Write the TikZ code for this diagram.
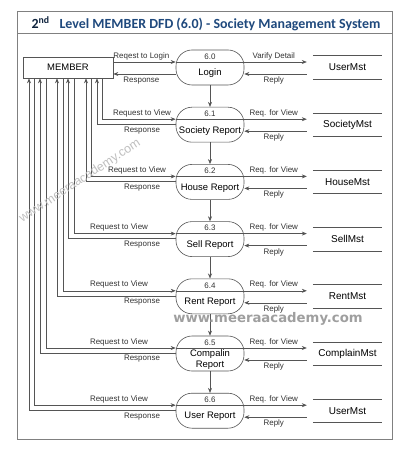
\documentclass[tikz,border=0pt]{standalone}
\usepackage{fontspec}
\setmainfont{Liberation Sans}
\newfontfamily\titlefont{Carlito}
\newfontfamily\markfont{DejaVu Sans}
\usetikzlibrary{arrows.meta,calc}
\definecolor{titleblue}{RGB}{31,73,125}
\definecolor{linegray}{RGB}{85,85,85}

\begin{document}
\begin{tikzpicture}[x=1bp,y=-1bp,
            >={Stealth[length=5bp,width=4bp]},
            dfdline/.style={draw=linegray,line width=0.6bp},
            flow/.style={dfdline,->},
            proc/.style={dfdline,rounded corners=16bp,minimum width=68bp,minimum height=35bp,inner sep=0pt},
            entity/.style={dfdline,minimum width=90bp,minimum height=21bp,font=\fontsize{9.5}{11}\selectfont},
            datastore/.style={minimum width=69bp,minimum height=23bp,inner sep=0pt,font=\fontsize{10}{12}\selectfont},
            lbl/.style={font=\fontsize{8}{9}\selectfont,text=black!80,inner sep=0pt},
            pname/.style={font=\fontsize{9.5}{11.5}\selectfont,align=center,inner sep=0pt},
        ]
        \useasboundingbox (0,0) rectangle (404,450);
        \fill[white] (0,0) rectangle (404,450);
        % frame and title
        \draw[gray,line width=1bp] (17,12) rectangle (392,439);
        \draw[gray,line width=1bp] (17,34) -- (392,34);
        \node[font=\titlefont\bfseries\fontsize{14}{16}\selectfont,text=titleblue] (title) at (206,24)
            {{\color{titleblue!50!black}2\textsuperscript{nd}}\hspace{10bp}Level MEMBER DFD (6.0) - Society Management System};

        \node[entity] (member) at (68,67.5) {MEMBER};

        % 6.0 login
        \node[proc] (p0) at (210,67.5) {};
        \coordinate (d0) at ($(p0.center)+(0,-5.5)$);
        \coordinate (r0) at ($(d0)+(0,12)$);
        \draw[dfdline] (p0.west |- d0) -- (p0.east |- d0);
        \node[lbl] at ($(d0)+(0,-5.5)$) {6.0};
        \node[pname] at ($(d0)+(0,11.5)$) {Login};
        \node[datastore] (s0) at (347.5,67.5) {UserMst};
        \draw[dfdline] (s0.north west) -- (s0.north east) (s0.south west) -- (s0.south east);
        \draw[flow] (member.east |- d0) -- node[lbl,above=2bp,pos=0.45]{Reqest to Login} (p0.west |- d0);
        \draw[flow] (p0.west |- r0) -- node[lbl,below=2.5bp,pos=0.55]{Response} (member.east |- r0);
        \draw[flow,shorten >=6bp] (p0.east |- d0) -- node[lbl,above=2bp,pos=0.43]{Varify Detail} (s0.west |- d0);
        \draw[flow,shorten <=6bp] (s0.west |- r0) -- node[lbl,below=2.5bp,pos=0.57]{Reply} (p0.east |- r0);

        % 6.1 - 6.6
        \foreach \i/\num/\name/\st/\rq/\rs/\lx in {
                1/6.1/Society Report/SocietyMst/102/97/142,
                2/6.2/House Report/HouseMst/91/86/137,
                3/6.3/Sell Report/SellMst/74/68/119,
                4/6.4/Rent Report/RentMst/63/57/119,
                5/6.5/Compalin\\Report/ComplainMst/46/40/119,
                6/6.6/User Report/UserMst/34/29/119}
        {
            \pgfmathsetmacro{\yc}{67.5+57.2*\i}
            \pgfmathtruncatemacro{\j}{\i-1}
            \node[proc] (p\i) at (210,\yc) {};
            \coordinate (d\i) at ($(p\i.center)+(0,-5.5)$);
            \coordinate (e\i) at ($(d\i)+(0,5)$);
            \coordinate (r\i) at ($(d\i)+(0,12)$);
            \coordinate (q\i) at (\rq,0);
            \coordinate (a\i) at (\rs,0);
            \draw[dfdline] (p\i.west |- d\i) -- (p\i.east |- d\i);
            \node[lbl] at ($(d\i)+(0,-5.5)$) {\num};
            \node[pname] at ($(d\i)+(0,11.5)$) {\name};
            \draw[flow] (p\j.south) -- (p\i.north);
            % member side
            \draw[flow] (member.south -| q\i) |- (p\i.west |- d\i);
            \draw[flow] (p\i.west |- e\i) -| (member.south -| a\i);
            \node[lbl] at (\lx,\yc-11.5) {Request to View};
            \node[lbl] at (142,\yc+5.5) {Response};
            % store side
            \node[datastore] (s\i) at (347.5,\yc) {\st};
            \draw[dfdline] (s\i.north west) -- (s\i.north east) (s\i.south west) -- (s\i.south east);
            \draw[flow,shorten >=6bp] (p\i.east |- d\i) -- node[lbl,above=2bp,pos=0.43]{Req. for View} (s\i.west |- d\i);
            \draw[flow,shorten <=6bp] (s\i.west |- r\i) -- node[lbl,below=2.5bp,pos=0.57]{Reply} (p\i.east |- r\i);
        }

        % watermarks
        \node[text=gray!50,font=\fontsize{12.5}{14}\selectfont,rotate=33] (mark1) at (80,181) {www.meeraacademy.com};
        \node[text=gray!75,font=\markfont\bfseries\fontsize{13.3}{15}\selectfont] (mark2) at (268,319) {www.meeraacademy.com};
    \end{tikzpicture}
\end{document}
